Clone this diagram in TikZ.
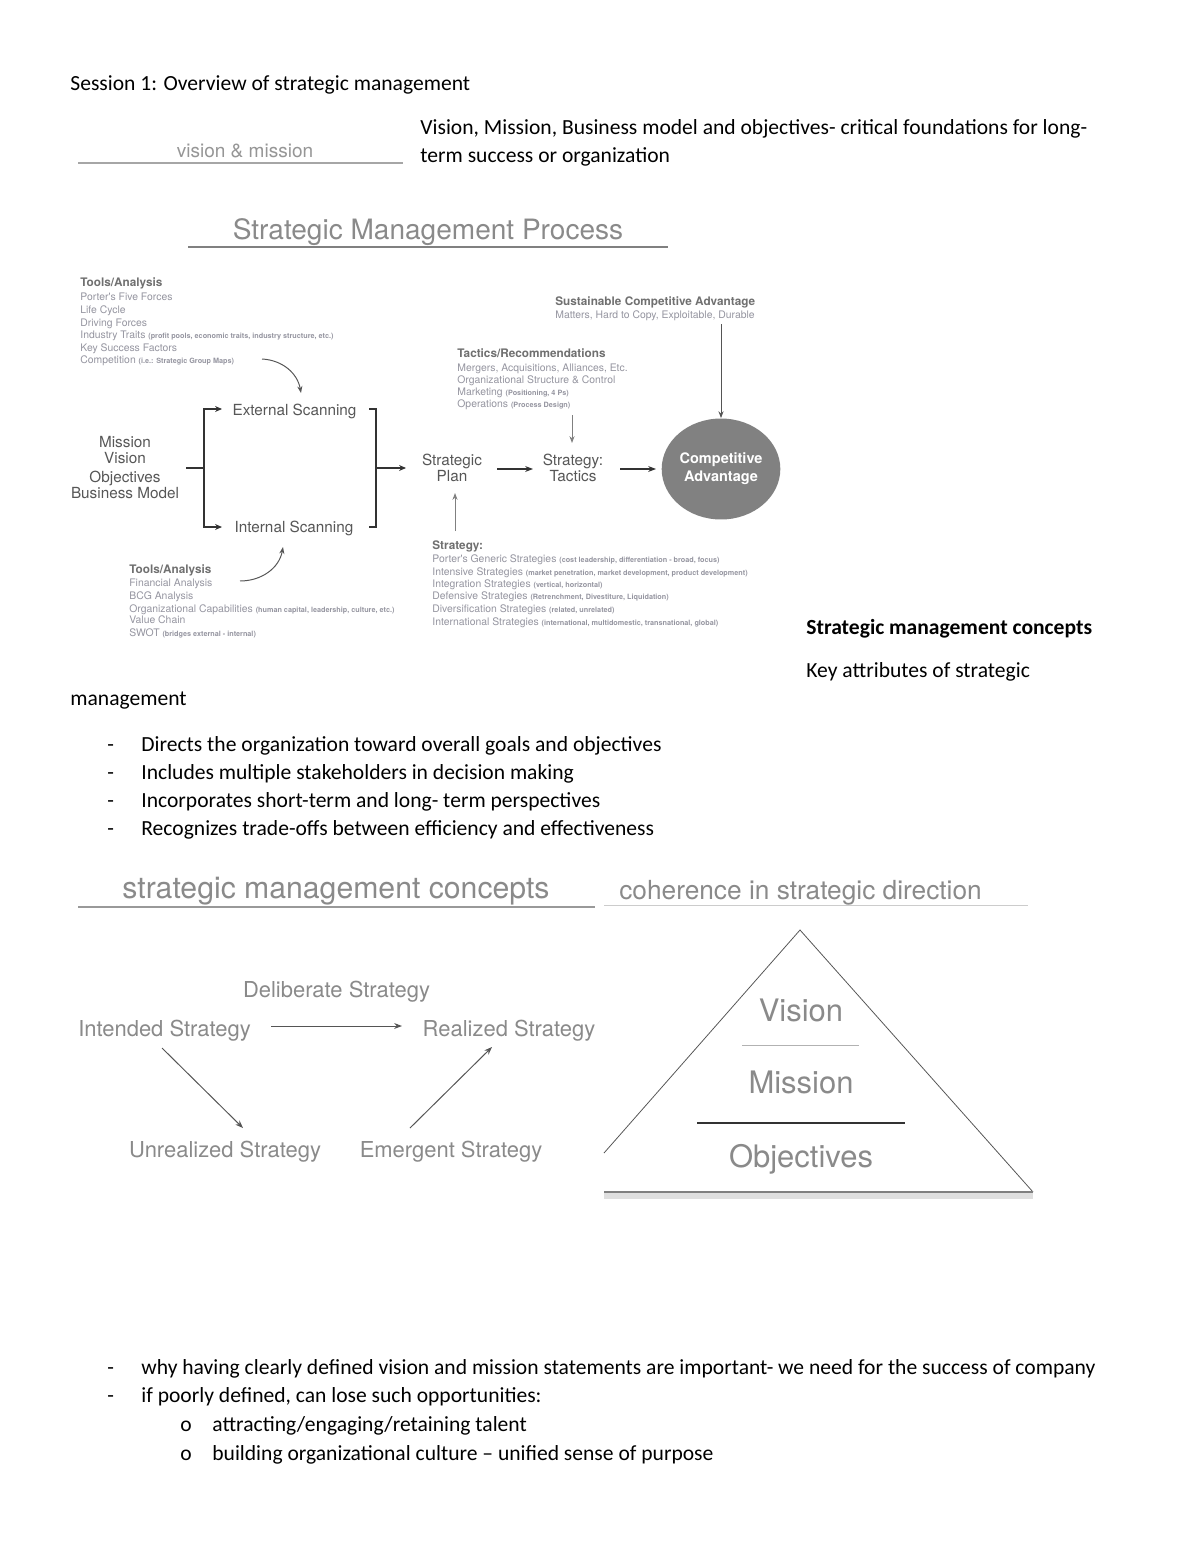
\documentclass[tikz,border=0pt]{standalone}
\usepackage{fontspec}
\setmainfont{Carlito}
\newfontfamily\hel{TeX Gyre Heros}
\usetikzlibrary{arrows.meta,shapes.geometric}
\definecolor{labc}{HTML}{575757}
\definecolor{smallc}{HTML}{9595A0}
\definecolor{ttlc}{HTML}{707070}
\definecolor{bigc}{HTML}{8A8A8A}
\definecolor{linec}{HTML}{333333}
\definecolor{arrc}{HTML}{555555}
\definecolor{circc}{HTML}{818181}
\newcommand\smallparen[1]{{\fontsize{3.7}{4}\selectfont\bfseries #1}}
\begin{document}
\begin{tikzpicture}[x=0.51pt,y=-0.51pt,
 body/.style={anchor=base west,inner sep=0pt,font=\fontsize{11}{13}\selectfont},
 bodyb/.style={anchor=base west,inner sep=0pt,font=\fontsize{11}{13}\selectfont\bfseries},
 lbl/.style={anchor=base,inner sep=0pt,text=labc,font=\hel\fontsize{7.8}{9}\selectfont},
 sml/.style={anchor=base west,inner sep=0pt,text=smallc,font=\hel\fontsize{5.3}{6}\selectfont},
 ttl/.style={anchor=base west,inner sep=0pt,text=ttlc,font=\hel\bfseries\fontsize{6}{7}\selectfont},
 concept/.style={anchor=base,inner sep=0pt,text=bigc,font=\hel\fontsize{11.2}{13}\selectfont},
 heading/.style={anchor=base,inner sep=0pt,text=bigc,font=\hel\fontsize{15.4}{18}\selectfont},
 pyr/.style={anchor=base,inner sep=0pt,text=bigc,font=\hel\fontsize{15.8}{18}\selectfont},
 arr/.style={-{Stealth[length=4pt,width=3pt]},line width=0.6pt,draw=linec},
 carr/.style={-{Stealth[length=4pt,width=3pt]},line width=0.5pt,draw=arrc},
 garr/.style={-{Stealth[length=3.5pt,width=2.6pt]},line width=0.5pt,draw=gray},
 brk/.style={line width=0.8pt,draw=linec},
]
\useasboundingbox[fill=white] (0,0) rectangle (1200,1553);

% ---------- body text top ----------
\node[body] (session) at (70,91) {Session 1: Overview of strategic management};
\node[body] (vm1) at (420,135) {Vision, Mission, Business model and objectives- critical foundations for long-};
\node[body] (vm2) at (420,163) {term success or organization};

% ---------- headings ----------
\node[anchor=base,inner sep=0pt,text=bigc!90,font=\hel\fontsize{9.7}{11}\selectfont] (vmhead) at (245,158) {vision \& mission};
\draw[draw=gray!70,line width=0.6pt] (78,163) -- (403,163);
\node[anchor=base,inner sep=0pt,text=bigc,font=\hel\fontsize{14.3}{17}\selectfont] (smp) at (428,240) {Strategic Management Process};
\draw[draw=gray,line width=0.7pt] (188,247) -- (668,247);

% ---------- top tools ----------
\node[ttl] (tt) at (80,287) {Tools/Analysis};
\node[sml] (tt1) at (80,300) {Porter's Five Forces};
\node[sml] (tt2) at (80,313) {Life Cycle};
\node[sml] (tt3) at (80,326) {Driving Forces};
\node[sml] (tt4) at (80,338) {Industry Traits \smallparen{(profit pools, economic traits, industry structure, etc.)}};
\node[sml] (tt5) at (80,351) {Key Success Factors};
\node[sml] (tt6) at (80,363) {Competition \smallparen{(i.e.: Strategic Group Maps)}};
\coordinate (c1s) at (262,359);
\coordinate (c1e) at (301,393);
\draw[garr,draw=arrc] (c1s) to[out=-3,in=100] (c1e);

% ---------- scanning block ----------
\node[lbl] (ext) at (294.5,415.5) {External Scanning};
\node[lbl] (int) at (294,532.5) {Internal Scanning};
\node[lbl] (m1) at (125,447.5) {Mission};
\node[lbl] (m2) at (125,463.5) {Vision};
\node[lbl] (m3) at (125,482.5) {Objectives};
\node[lbl] (m4) at (125,498.5) {Business Model};
\coordinate (bl) at (204,468);
\coordinate (blt) at (222,409);
\coordinate (blb) at (222,527);
\draw[brk] (186,468) -- (bl);
\draw[brk,-{Stealth[length=3.5pt,width=3pt]}] (bl) |- (blt);
\draw[brk,-{Stealth[length=3.5pt,width=3pt]}] (bl) |- (blb);
\coordinate (brt) at (369,409);
\coordinate (brb) at (369,527);
\coordinate (brm) at (376,468);
\coordinate (brx) at (406,468);
\draw[brk] (brt) -| (376,527) -- (brb);
\draw[brk,-{Stealth[length=3.5pt,width=3pt]}] (brm) -- (brx);

% ---------- plan / tactics / advantage ----------
\node[lbl] (sp1) at (452,465.5) {Strategic};
\node[lbl] (sp2) at (452,481.5) {Plan};
\node[lbl] (st1) at (573,465.5) {Strategy:};
\node[lbl] (st2) at (573,481.5) {Tactics};
\node[ellipse,fill=circc,minimum width=60.5pt,minimum height=51.5pt,inner sep=0pt,
      text=white,align=center,font=\hel\bfseries\fontsize{7.4}{9.2}\selectfont] (ca) at (721,469) {Competitive\\Advantage};
\coordinate (a1s) at (497,469);
\coordinate (a1e) at (533,469);
\coordinate (a2s) at (620,469);
\coordinate (a2e) at (656,469);
\draw[arr] (a1s) -- (a1e);
\draw[arr] (a2s) -- (a2e);

% ---------- sustainable CA ----------
\node[ttl] (sca) at (555,305) {Sustainable Competitive Advantage};
\node[sml] (sca1) at (555,318) {Matters, Hard to Copy, Exploitable, Durable};
\coordinate (scaA) at (721,324);
\draw[garr,draw=arrc] (scaA) -- (ca.north);

% ---------- tactics ----------
\node[ttl] (tac) at (457,357) {Tactics/Recommendations};
\node[sml] (tac1) at (457,371) {Mergers, Acquisitions, Alliances, Etc.};
\node[sml] (tac2) at (457,383) {Organizational Structure \& Control};
\node[sml] (tac3) at (457,395) {Marketing \smallparen{(Positioning, 4 Ps)}};
\node[sml] (tac4) at (457,407) {Operations \smallparen{(Process Design)}};
\coordinate (tacA) at (572,415);
\coordinate (tacB) at (572,443);
\draw[garr] (tacA) -- (tacB);

% ---------- strategy ----------
\node[ttl] (str) at (432,549) {Strategy:};
\node[sml] (str1) at (432,562) {Porter's Generic Strategies \smallparen{(cost leadership, differentiation - broad, focus)}};
\node[sml] (str2) at (432,575) {Intensive Strategies \smallparen{(market penetration, market development, product development)}};
\node[sml] (str3) at (432,587) {Integration Strategies \smallparen{(vertical, horizontal)}};
\node[sml] (str4) at (432,599) {Defensive Strategies \smallparen{(Retrenchment, Divestiture, Liquidation)}};
\node[sml] (str5) at (432,612) {Diversification Strategies \smallparen{(related, unrelated)}};
\node[sml] (str6) at (432,625) {International Strategies \smallparen{(international, multidomestic, transnational, global)}};
\coordinate (strA) at (455,531);
\coordinate (strB) at (455,493);
\draw[garr] (strA) -- (strB);

% ---------- bottom tools ----------
\node[ttl] (bt) at (129,573) {Tools/Analysis};
\node[sml] (bt1) at (129,586) {Financial Analysis};
\node[sml] (bt2) at (129,599) {BCG Analysis};
\node[sml] (bt3) at (129,612) {Organizational Capabilities \smallparen{(human capital, leadership, culture, etc.)}};
\node[sml] (bt4) at (129,623) {Value Chain};
\node[sml] (bt5) at (129,636) {SWOT \smallparen{(bridges external - internal)}};
\coordinate (c2s) at (240,581);
\coordinate (c2e) at (283,547);
\draw[garr,draw=arrc] (c2s) to[out=0,in=-100] (c2e);

% ---------- right / body ----------
\node[bodyb] (smchead) at (806,634) {Strategic management concepts};
\node[body] (ka1) at (806,677) {Key attributes of strategic};
\node[body] (ka2) at (70,705) {management};
\node[body] (d1) at (107,751) {-};
\node[body] (b1) at (141,751) {Directs the organization toward overall goals and objectives};
\node[body] (d2) at (107,779) {-};
\node[body] (b2) at (141,779) {Includes multiple stakeholders in decision making};
\node[body] (d3) at (107,807) {-};
\node[body] (b3) at (141,807) {Incorporates short-term and long- term perspectives};
\node[body] (d4) at (107,835) {-};
\node[body] (b4) at (141,835) {Recognizes trade-offs between efficiency and effectiveness};

% ---------- concepts ----------
\node[heading] (smc) at (336,898) {strategic management concepts};
\draw[draw=gray!80,line width=0.8pt] (78,907) -- (595,907);
\node[anchor=base,inner sep=0pt,text=bigc,font=\hel\fontsize{13.4}{16}\selectfont] (coh) at (800.5,899) {coherence in strategic direction};
\draw[draw=gray!40,line width=0.5pt] (604,905) -- (1028,905);

\node[concept] (del) at (336.5,997) {Deliberate Strategy};
\node[concept] (intd) at (164.5,1036) {Intended Strategy};
\node[concept] (real) at (509,1036) {Realized Strategy};
\node[concept] (unr) at (225,1157) {Unrealized Strategy};
\node[concept] (emg) at (451,1157) {Emergent Strategy};
\coordinate (h1) at (271,1026);
\coordinate (h2) at (402,1026);
\coordinate (u1) at (162,1048);
\coordinate (u2) at (243,1128);
\coordinate (e1) at (410,1128);
\coordinate (e2) at (492,1047);
\draw[carr] (h1) -- (h2);
\draw[carr] (u1) -- (u2);
\draw[carr] (e1) -- (e2);

% ---------- pyramid ----------
\coordinate (apex) at (800,930);
\coordinate (pl) at (604,1153);
\coordinate (pr) at (1033,1192);
\coordinate (pbl) at (604,1192);
\draw[draw=arrc,line width=0.4pt] (pl) -- (apex) -- (pr);
\draw[draw=gray!25,line width=3pt] (604,1196) -- (1033,1196);
\draw[draw=gray,line width=1pt] (pbl) -- (pr);
\node[pyr] (pv) at (801,1021) {Vision};
\draw[draw=gray!60,line width=0.5pt] (742,1045) -- (859,1045);
\node[pyr] (pm) at (801,1093) {Mission};
\draw[draw=linec,line width=0.9pt] (697,1123) -- (905,1123);
\node[pyr] (po) at (801,1167) {Objectives};

% ---------- bottom bullets ----------
\node[body] (d5) at (107,1374) {-};
\node[body] (b5) at (141,1374) {why having clearly defined vision and mission statements are important- we need for the success of company};
\node[body] (d6) at (107,1402) {-};
\node[body] (b6) at (141,1402) {if poorly defined, can lose such opportunities:};
\node[body] (o1) at (180,1431) {o};
\node[body] (b7) at (212,1431) {attracting/engaging/retaining talent};
\node[body] (o2) at (180,1460) {o};
\node[body] (b8) at (212,1460) {building organizational culture – unified sense of purpose};
\end{tikzpicture}
\end{document}
